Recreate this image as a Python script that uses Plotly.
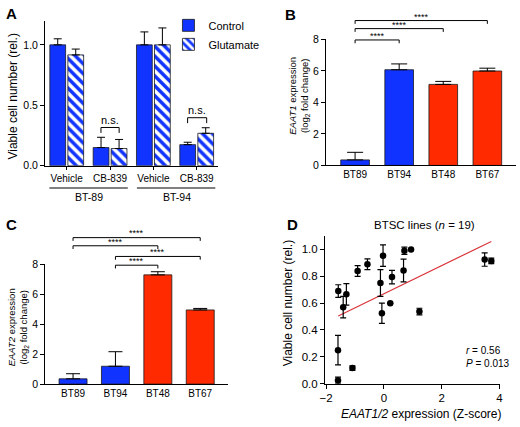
import plotly.graph_objects as go

W, H = 520, 427
BLUE = "#1133ff"
RED = "#ff2a00"
FONT = "Arial, Liberation Sans, Helvetica, sans-serif"

# ---------------- Panel A data ----------------
a_conditions = ["Vehicle", "CB-839", "Vehicle", "CB-839"]
a_cell_lines = ["BT-89", "BT-94"]
a_control = [1.0, 0.15, 1.0, 0.174]
a_control_err = [0.05, 0.085, 0.107, 0.02]
a_glutamate = [0.917, 0.142, 1.0, 0.268]
a_glutamate_err = [0.048, 0.075, 0.14, 0.046]
a_yticks = [0.0, 0.5, 1.0]

# ---------------- Panel B data ----------------
b_lines = ["BT89", "BT94", "BT48", "BT67"]
b_values = [0.35, 6.07, 5.14, 5.99]
b_err = [0.48, 0.37, 0.19, 0.18]
b_colors = [BLUE, BLUE, RED, RED]
b_sig = [(0, 1), (0, 2), (0, 3)]

# ---------------- Panel C data ----------------
c_lines = ["BT89", "BT94", "BT48", "BT67"]
c_values = [0.35, 1.19, 7.29, 4.95]
c_err = [0.34, 0.97, 0.21, 0.10]
c_colors = [BLUE, BLUE, RED, RED]
c_sig = [(1, 2), (1, 3), (0, 2), (0, 3)]

# ---------------- Panel D data ----------------
d_x = [-1.58, -1.41, -1.30, -1.59, -1.59, -1.09, -0.91, -0.57, -0.12, -0.03,
       -0.07, 0.22, 0.28, 0.68, 0.71, 0.94, 1.23, 3.49, 3.72]
d_y = [0.69, 0.57, 0.666, 0.25, 0.024, 0.116, 0.84, 0.89, 0.75, 0.954,
       0.525, 0.60, 0.794, 0.843, 0.99, 1.0, 0.537, 0.925, 0.915]
d_err = [0.047, 0.08, 0.08, 0.11, 0.025, 0.017, 0.04, 0.04, 0.10, 0.08,
         0.075, 0.0, 0.05, 0.085, 0.027, 0.0, 0.025, 0.05, 0.02]
reg_x = [-1.58, 3.72]
reg_y = [0.504, 1.06]

fig = go.Figure()

# ---- Panel A bars ----
idx = list(range(len(a_conditions)))
fig.add_trace(go.Bar(
    x=idx, y=a_control, name="Control", xaxis="x", yaxis="y",
    width=0.364, offset=-0.39,
    marker=dict(color=BLUE, line=dict(color="#1a1a1a", width=0.8)),
    error_y=dict(type="data", symmetric=False, array=a_control_err,
                 arrayminus=[0] * 4, color="black", thickness=1, width=4),
))
fig.add_trace(go.Bar(
    x=idx, y=a_glutamate, name="Glutamate", xaxis="x", yaxis="y",
    width=0.364, offset=0.026,
    marker=dict(color=BLUE, line=dict(color="#1a1a1a", width=0.8),
                pattern=dict(shape="\\", bgcolor=BLUE, fgcolor="white",
                             size=7, solidity=0.5, fillmode="replace")),
    error_y=dict(type="data", symmetric=False, array=a_glutamate_err,
                 arrayminus=[0] * 4, color="black", thickness=1, width=4),
))

# ---- Panel B bars ----
fig.add_trace(go.Bar(
    x=list(range(len(b_lines))), y=b_values, xaxis="x2", yaxis="y2",
    width=0.65, showlegend=False,
    marker=dict(color=b_colors, line=dict(color="#1a1a1a", width=0.8)),
    error_y=dict(type="data", symmetric=False, array=b_err,
                 arrayminus=[0] * 4, color="black", thickness=1, width=8),
))

# ---- Panel C bars ----
fig.add_trace(go.Bar(
    x=list(range(len(c_lines))), y=c_values, xaxis="x3", yaxis="y3",
    width=0.66, showlegend=False,
    marker=dict(color=c_colors, line=dict(color="#1a1a1a", width=0.8)),
    error_y=dict(type="data", symmetric=False, array=c_err,
                 arrayminus=[0] * 4, color="black", thickness=1, width=7),
))

# ---- Panel D ----
fig.add_trace(go.Scatter(
    x=reg_x, y=reg_y, mode="lines", xaxis="x4", yaxis="y4", showlegend=False,
    line=dict(color="#d8343a", width=1.2),
))
fig.add_trace(go.Scatter(
    x=d_x, y=d_y, mode="markers", xaxis="x4", yaxis="y4", showlegend=False,
    marker=dict(color="black", size=6.5),
    error_y=dict(type="data", array=d_err, color="black", thickness=1.2, width=3),
))

axis_common = dict(showgrid=False, zeroline=False, showline=True, linecolor="black",
                   linewidth=1, ticks="outside", tickcolor="black", tickwidth=1,
                   ticklen=4, fixedrange=True)

shapes = []
annotations = []

def bracket(xref, yref, x0, x1, y, drop, label, label_dy, fsize=10):
    shapes.append(dict(type="path", xref=xref, yref=yref,
                       path=f"M {x0} {y - drop} L {x0} {y} L {x1} {y} L {x1} {y - drop}",
                       line=dict(color="black", width=1)))
    annotations.append(dict(x=(x0 + x1) / 2, y=y + label_dy, xref=xref, yref=yref,
                            text=label, showarrow=False, xanchor="center",
                            yanchor="middle", font=dict(size=fsize, color="black")))

# Panel A n.s. brackets
bracket("x", "y", 0.79, 1.21, 0.316, 0.045, "n.s.", 0.066, 11)
bracket("x", "y", 2.79, 3.23, 0.397, 0.045, "n.s.", 0.066, 11)

# Panel A group lines + labels
group_spans = [(-0.40, 1.41), (1.62, 3.43)]
for (g0, g1), name in zip(group_spans, a_cell_lines):
    shapes.append(dict(type="line", xref="x", yref="y domain", x0=g0, x1=g1,
                       y0=-0.154, y1=-0.154, line=dict(color="black", width=1)))
    annotations.append(dict(x=(g0 + g1) / 2 + 0.01, y=-0.217, xref="x", yref="y domain",
                            text=name, showarrow=False, font=dict(size=10.5),
                            xanchor="center", yanchor="middle"))

# Panel B significance brackets (domain y)
b_levels = [0.995, 1.085, 1.149]
for (i0, i1), lv in zip(b_sig, b_levels):
    bracket("x2", "y2 domain", i0, i1, lv, 0.026, "****", 0.032, 9)

# Panel C significance brackets
c_levels = [0.992, 1.065, 1.154, 1.222]
for (i0, i1), lv in zip(c_sig, c_levels):
    bracket("x3", "y3 domain", i0, i1, lv, 0.027, "****", 0.035, 9)

# Panel letters
for txt, px, py in [("A", 6.7, 7.5), ("B", 290, 8.7), ("C", 6.3, 225), ("D", 291.7, 225)]:
    annotations.append(dict(x=px / W, y=1 - py / H, xref="paper", yref="paper",
                            text=f"<b>{txt}</b>", showarrow=False, xanchor="center",
                            yanchor="middle", font=dict(size=15, color="black")))

# Axis titles and notes
annotations += [
    dict(x=8.3 / W, y=1 - 93 / H, xref="paper", yref="paper", textangle=-90,
         text="Viable cell number (rel.)", showarrow=False, font=dict(size=12),
         xanchor="center", yanchor="middle"),
    dict(x=299 / W, y=1 - 92 / H, xref="paper", yref="paper", textangle=-90,
         text="<i>EAAT1</i> expression<br>(log<sub>2</sub> fold change)", showarrow=False,
         font=dict(size=9.5), xanchor="center", yanchor="middle"),
    dict(x=12.8 / W, y=1 - 331 / H, xref="paper", yref="paper", textangle=-90,
         text="<i>EAAT2</i> expression<br>(log<sub>2</sub> fold change)", showarrow=False,
         font=dict(size=9.5), xanchor="center", yanchor="middle"),
    dict(x=288.3 / W, y=1 - 305 / H, xref="paper", yref="paper", textangle=-90,
         text="Viable cell number (rel.)", showarrow=False, font=dict(size=12),
         xanchor="center", yanchor="middle"),
    dict(x=423.3 / W, y=1 - 420 / H, xref="paper", yref="paper",
         text="<i>EAAT1/2</i> expression (Z-score)", showarrow=False, font=dict(size=12),
         xanchor="center", yanchor="middle"),
    dict(x=426.3 / W, y=1 - 225 / H, xref="paper", yref="paper",
         text="BTSC lines (<i>n</i> = 19)", showarrow=False, font=dict(size=11.5),
         xanchor="center", yanchor="middle"),
    dict(x=466.7 / W, y=1 - 354.5 / H, xref="paper", yref="paper",
         text="<i>r</i> = 0.56", showarrow=False, font=dict(size=10),
         xanchor="left", yanchor="middle", borderpad=0),
    dict(x=466.7 / W, y=1 - 368 / H, xref="paper", yref="paper",
         text="<i>P</i> = 0.013", showarrow=False, font=dict(size=10),
         xanchor="left", yanchor="middle", borderpad=0),
]

fig.update_layout(
    width=W, height=H, margin=dict(l=0, r=0, t=0, b=0),
    paper_bgcolor="white", plot_bgcolor="white",
    font=dict(family=FONT, color="black", size=10),
    barmode="overlay",
    showlegend=True,
    legend=dict(x=166 / W, y=1 - 5 / H, xanchor="left", yanchor="top",
                font=dict(size=11), bgcolor="rgba(0,0,0,0)", tracegroupgap=0,
                itemclick=False, itemdoubleclick=False),
    xaxis=dict(axis_common, domain=[40.7 / W, 216.7 / W], range=[-0.5, 3.5],
               tickvals=idx, ticktext=a_conditions, ticklen=3, anchor="y",
               tickfont=dict(size=10)),
    yaxis=dict(axis_common, domain=[1 - 164.3 / H, 1 - 15.1 / H], range=[0, 1.2],
               tickvals=a_yticks, ticktext=[f"{v:.1f}" for v in a_yticks], anchor="x",
               tickfont=dict(size=10.5)),
    xaxis2=dict(axis_common, domain=[326 / W, 519 / W], range=[-0.66, 3.65],
                tickvals=list(range(4)), ticktext=b_lines, ticks="", anchor="y2",
                tickfont=dict(size=10)),
    yaxis2=dict(axis_common, domain=[1 - 164 / H, 1 - 34.3 / H], range=[0, 8],
                tickvals=[0, 2, 4, 6, 8], anchor="x2", tickfont=dict(size=10.5)),
    xaxis3=dict(axis_common, domain=[40.7 / W, 226.7 / W], range=[-0.66, 3.66],
                tickvals=list(range(4)), ticktext=c_lines, ticks="", anchor="y3",
                tickfont=dict(size=10)),
    yaxis3=dict(axis_common, domain=[1 - 389 / H, 1 - 265.7 / H], range=[0, 8],
                tickvals=[0, 2, 4, 6, 8], anchor="x3", tickfont=dict(size=10.5)),
    xaxis4=dict(axis_common, domain=[325 / W, 503 / W], range=[-2.04, 4.03],
                tickvals=[-2, 0, 2, 4], ticktext=["\u22122", "0", "2", "4"],
                anchor="y4", tickfont=dict(size=11.5)),
    yaxis4=dict(axis_common, domain=[1 - 388.6 / H, 1 - 236.7 / H], range=[0, 1.1],
                tickvals=[0, 0.2, 0.4, 0.6, 0.8, 1.0], tickformat=".1f",
                anchor="x4", tickfont=dict(size=11.5)),
    shapes=shapes,
    annotations=annotations,
)

fig.write_html("out.html", config={"displayModeBar": False, "staticPlot": True},
               post_script="document.body.style.margin='0';document.body.style.padding='0';")
